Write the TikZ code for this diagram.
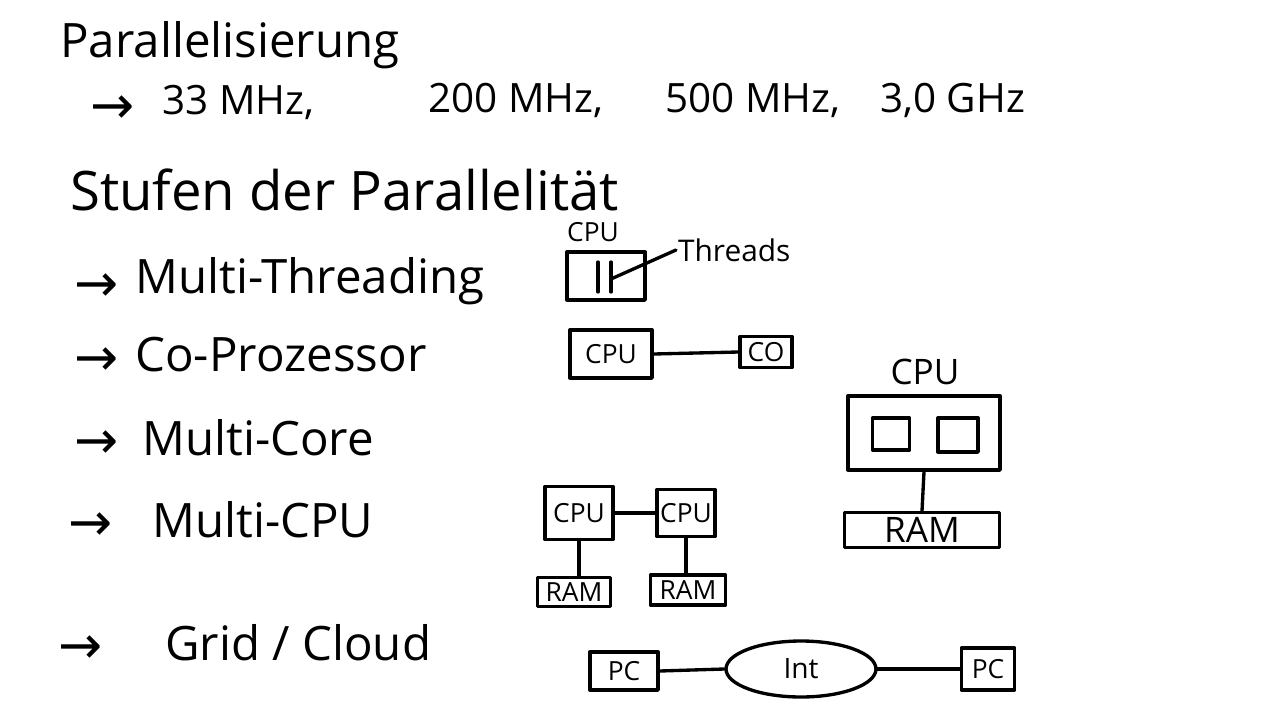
\documentclass[tikz,border=0pt]{standalone}
\usepackage{fontspec}
\setmainfont{Open Sans}
\newfontfamily\symfont{DejaVu Sans}
\usetikzlibrary{shapes.geometric}

\tikzset{
  ink/.style={line width=1.9pt, line cap=round, line join=round},
  headtext/.style={anchor=west, inner sep=0pt, font=\fontsize{27}{32}\selectfont},
  freqtext/.style={anchor=west, inner sep=0pt, font=\fontsize{23}{27}\selectfont},
  itemtext/.style={anchor=west, inner sep=0pt, font=\fontsize{27}{32}\selectfont},
  arrowmark/.style={anchor=west, inner sep=0pt, yshift=-4pt, font=\symfont\fontsize{30}{34}\selectfont},
  smalltext/.style={font=\fontsize{15}{18}\selectfont},
  hwbox/.style={ink, draw, rectangle, inner sep=0pt, font=\fontsize{15}{18}\selectfont}
}

\begin{document}
\begin{tikzpicture}[x=0.02cm, y=-0.02cm]
    \useasboundingbox (0,0) rectangle (1280,720);

    % ================= HEADINGS =================
    \node[headtext] (title) at (60,45) {Parallelisierung};
    \node[arrowmark] (freqarrow) at (90,103) {→};
    \node[freqtext] (f1) at (162,102) {33 MHz,};
    \node[freqtext] (f2) at (428,100) {200 MHz,};
    \node[freqtext] (f3) at (665,100) {500 MHz,};
    \node[freqtext] (f4) at (880,100) {3,0 GHz};
    \node[headtext, font=\fontsize{31}{36}\selectfont] (stufen) at (70,190) {Stufen der Parallelität};

    % ================= LIST OF LEVELS =================
    \foreach \y/\ax/\tx/\t in {281/74/135/Multi-Threading, 355/74/135/Co-Prozessor,
                               438/74/142/Multi-Core, 520/68/152/Multi-CPU,
                               643/58/165/{Grid / Cloud}}
    {
        \node[arrowmark] (arr\y) at (\ax,\y) {→};
        \node[itemtext] (item\y) at (\tx,\y) {\t};
    }

    % ================= MULTI-THREADING =================
    \node[smalltext] (cpuTlabel) at (593,232) {CPU};
    \node[hwbox, minimum width=1.56cm, minimum height=0.96cm] (cpuT) at (606,276) {};
    \coordinate (thrA) at (598,262);
    \coordinate (thrB) at (611,262);
    \draw[ink] (thrA) -- ++(0,30);
    \draw[ink] (thrB) -- ++(0,30);
    \coordinate (thrmid) at (611,279);
    \node[smalltext, anchor=west, inner sep=1pt, font=\fontsize{17}{20}\selectfont] (threads) at (676,250) {Threads};
    \draw[ink] (thrmid) -- (threads.west);

    % ================= CO-PROZESSOR =================
    \node[hwbox, minimum width=1.64cm, minimum height=0.96cm] (cpuC) at (611,354) {CPU};
    \node[hwbox, minimum width=1.04cm, minimum height=0.62cm] (co) at (766,352) {CO};
    \draw[ink] (cpuC.east) -- (co.west);

    % ================= MULTI-CORE =================
    \node[font=\fontsize{20}{24}\selectfont] (mcLabel) at (925,372) {CPU};
    \node[hwbox, minimum width=3.04cm, minimum height=1.48cm] (mcBox) at (924,433) {};
    \node[hwbox, minimum width=0.74cm, minimum height=0.64cm] (core1) at (891,434) {};
    \node[hwbox, minimum width=0.80cm, minimum height=0.68cm] (core2) at (958,435) {};
    \node[hwbox, minimum width=3.10cm, minimum height=0.70cm,
          font=\fontsize{20}{24}\selectfont] (mcRam) at (922,530) {RAM};
    \draw[ink] (mcBox.south) -- (mcRam.north);

    % ================= MULTI-CPU =================
    \node[hwbox, minimum width=1.36cm, minimum height=1.06cm] (cpu1) at (579,513) {CPU};
    \node[hwbox, minimum width=1.16cm, minimum height=0.94cm] (cpu2) at (686,513) {CPU};
    \node[hwbox, minimum width=1.46cm, minimum height=0.58cm] (ram1) at (574,592) {RAM};
    \node[hwbox, minimum width=1.50cm, minimum height=0.60cm] (ram2) at (688,590) {RAM};
    \draw[ink] (cpu1.east) -- (cpu2.west);
    \draw[ink] (cpu1.south) -- (cpu1.south |- ram1.north);
    \draw[ink] (cpu2.south) -- (cpu2.south |- ram2.north);

    % ================= GRID / CLOUD =================
    \node[hwbox, minimum width=1.36cm, minimum height=0.76cm] (pc1) at (624,671) {PC};
    \node[ink, draw, ellipse, minimum width=3.0cm, minimum height=1.12cm, inner sep=0pt,
          font=\fontsize{16}{19}\selectfont] (inet) at (801,669) {Int};
    \node[hwbox, minimum width=1.06cm, minimum height=0.84cm] (pc2) at (988,669) {PC};
    \draw[ink] (pc1.east) -- (inet.west);
    \draw[ink] (inet.east) -- (pc2.west);

\end{tikzpicture}
\end{document}
